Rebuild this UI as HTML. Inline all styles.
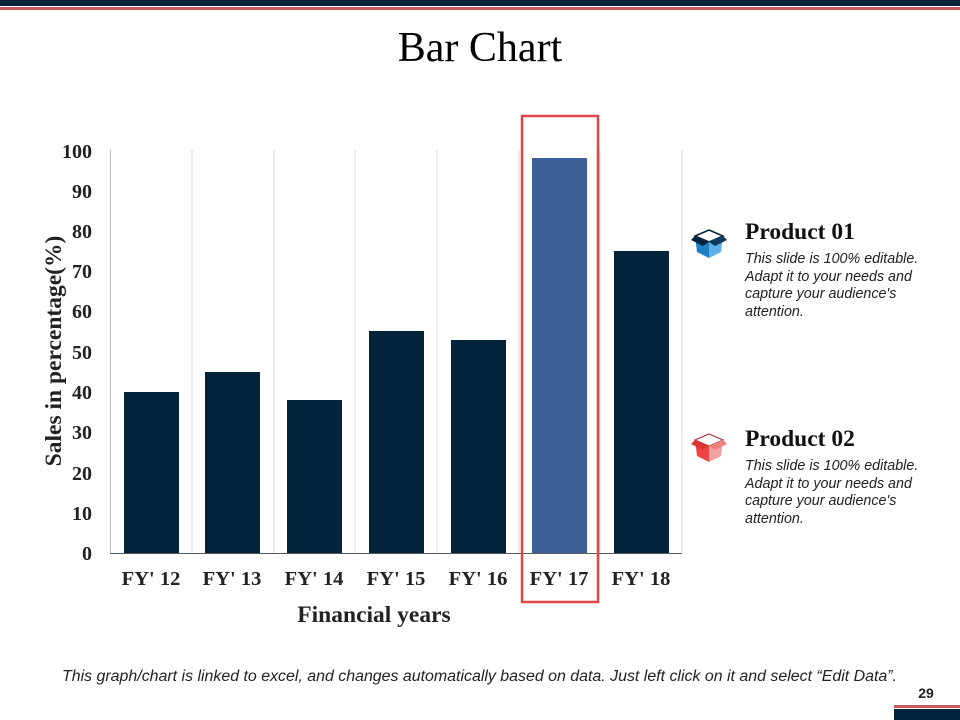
<!DOCTYPE html><html><head><style>body{margin:0;width:960px;height:720px;position:relative;background:#fff;overflow:hidden;font-family:"Liberation Sans",sans-serif}</style></head><body>
<svg width="960" height="720" style="position:absolute;left:0;top:0">
<rect x="0" y="0" width="960" height="6" fill="#03233a"/>
<rect x="0" y="7" width="960" height="3" fill="#c85a5c"/>
<rect x="894" y="705" width="66" height="3" fill="#c85a5c"/>
<rect x="894" y="709" width="66" height="11" fill="#03233a"/>
<text x="480" y="61" text-anchor="middle" font-family="Liberation Serif" font-size="42">Bar Chart</text>
<g stroke="#d9d9d9" stroke-width="1">
<line x1="192" y1="150" x2="192" y2="553"/><line x1="274" y1="150" x2="274" y2="553"/><line x1="355" y1="150" x2="355" y2="553"/><line x1="437" y1="150" x2="437" y2="553"/><line x1="519" y1="150" x2="519" y2="553"/><line x1="600" y1="150" x2="600" y2="553"/><line x1="682" y1="150" x2="682" y2="553"/>
</g>
<line x1="110.5" y1="150" x2="110.5" y2="553" stroke="#bfbfbf"/>
<line x1="110" y1="553.5" x2="682" y2="553.5" stroke="#595959"/>
<g fill="#03233a">
<rect x="124" y="392" width="55" height="161"/>
<rect x="205" y="372" width="55" height="181"/>
<rect x="287" y="400" width="55" height="153"/>
<rect x="369" y="331" width="55" height="222"/>
<rect x="451" y="340" width="55" height="213"/>
<rect x="532" y="158" width="55" height="395" fill="#3d5f98"/>
<rect x="614" y="251" width="55" height="302"/>
</g>
<rect x="522" y="116" width="76" height="486" fill="none" stroke="#e0474b" stroke-width="2.5"/>
<g font-family="Liberation Serif" font-weight="bold" font-size="20" fill="#222" text-anchor="end">
<text x="92" y="560">0</text><text x="92" y="520">10</text><text x="92" y="480">20</text><text x="92" y="439">30</text><text x="92" y="399">40</text><text x="92" y="359">50</text><text x="92" y="318">60</text><text x="92" y="278">70</text><text x="92" y="238">80</text><text x="92" y="198">90</text><text x="92" y="158">100</text>
</g>
<g font-family="Liberation Serif" font-weight="bold" font-size="20.5" fill="#222" text-anchor="middle">
<text x="151" y="585">FY' 12</text><text x="232" y="585">FY' 13</text><text x="314" y="585">FY' 14</text><text x="396" y="585">FY' 15</text><text x="478" y="585">FY' 16</text><text x="559" y="585">FY' 17</text><text x="641" y="585">FY' 18</text>
<text x="374" y="622" font-size="23.5">Financial years</text>
<text transform="translate(61,351) rotate(-90)" font-size="23.5">Sales in percentage(%)</text>
</g>
<g transform="translate(693,228)">
<polygon points="16,2 30,8 16,14 2,8" fill="#fff" stroke="#03233a" stroke-width="1.5"/>
<polygon points="2,8 16,14 16,30 4,24" fill="#1f7fc4"/><polygon points="30,8 16,14 16,30 28,24" fill="#5bb0e6"/>
<polygon points="2,8 16,14 10,18 -2,12" fill="#03233a"/><polygon points="30,8 16,14 22,18 34,12" fill="#0b3a5a"/>
</g>
<g transform="translate(693,432)">
<polygon points="16,2 30,8 16,14 2,8" fill="#fff" stroke="#a33" stroke-width="1.2"/>
<polygon points="2,8 16,14 16,30 4,24" fill="#e44"/><polygon points="30,8 16,14 16,30 28,24" fill="#f3a0a0"/>
<polygon points="2,8 16,14 10,18 -2,12" fill="#d33"/><polygon points="30,8 16,14 22,18 34,12" fill="#f08080"/>
</g>
<g font-family="Liberation Serif" font-weight="bold" font-size="23.5" fill="#111"><text x="745" y="239">Product 01</text><text x="745" y="446">Product 02</text></g>
<g font-style="italic" font-size="14.3" fill="#222">
<text x="745" y="263">This slide is 100% editable.</text><text x="745" y="281">Adapt it to your needs and</text><text x="745" y="298">capture your audience's</text><text x="745" y="316">attention.</text>
<text x="745" y="470">This slide is 100% editable.</text><text x="745" y="488">Adapt it to your needs and</text><text x="745" y="505">capture your audience's</text><text x="745" y="523">attention.</text>
<text x="62" y="681" font-size="15.5" textLength="835" lengthAdjust="spacingAndGlyphs">This graph/chart is linked to excel, and changes automatically based on data. Just left click on it and select “Edit Data”.</text>
</g>
<text x="926" y="698" font-weight="bold" font-size="14" text-anchor="middle" fill="#222">29</text>
</svg></body></html>
